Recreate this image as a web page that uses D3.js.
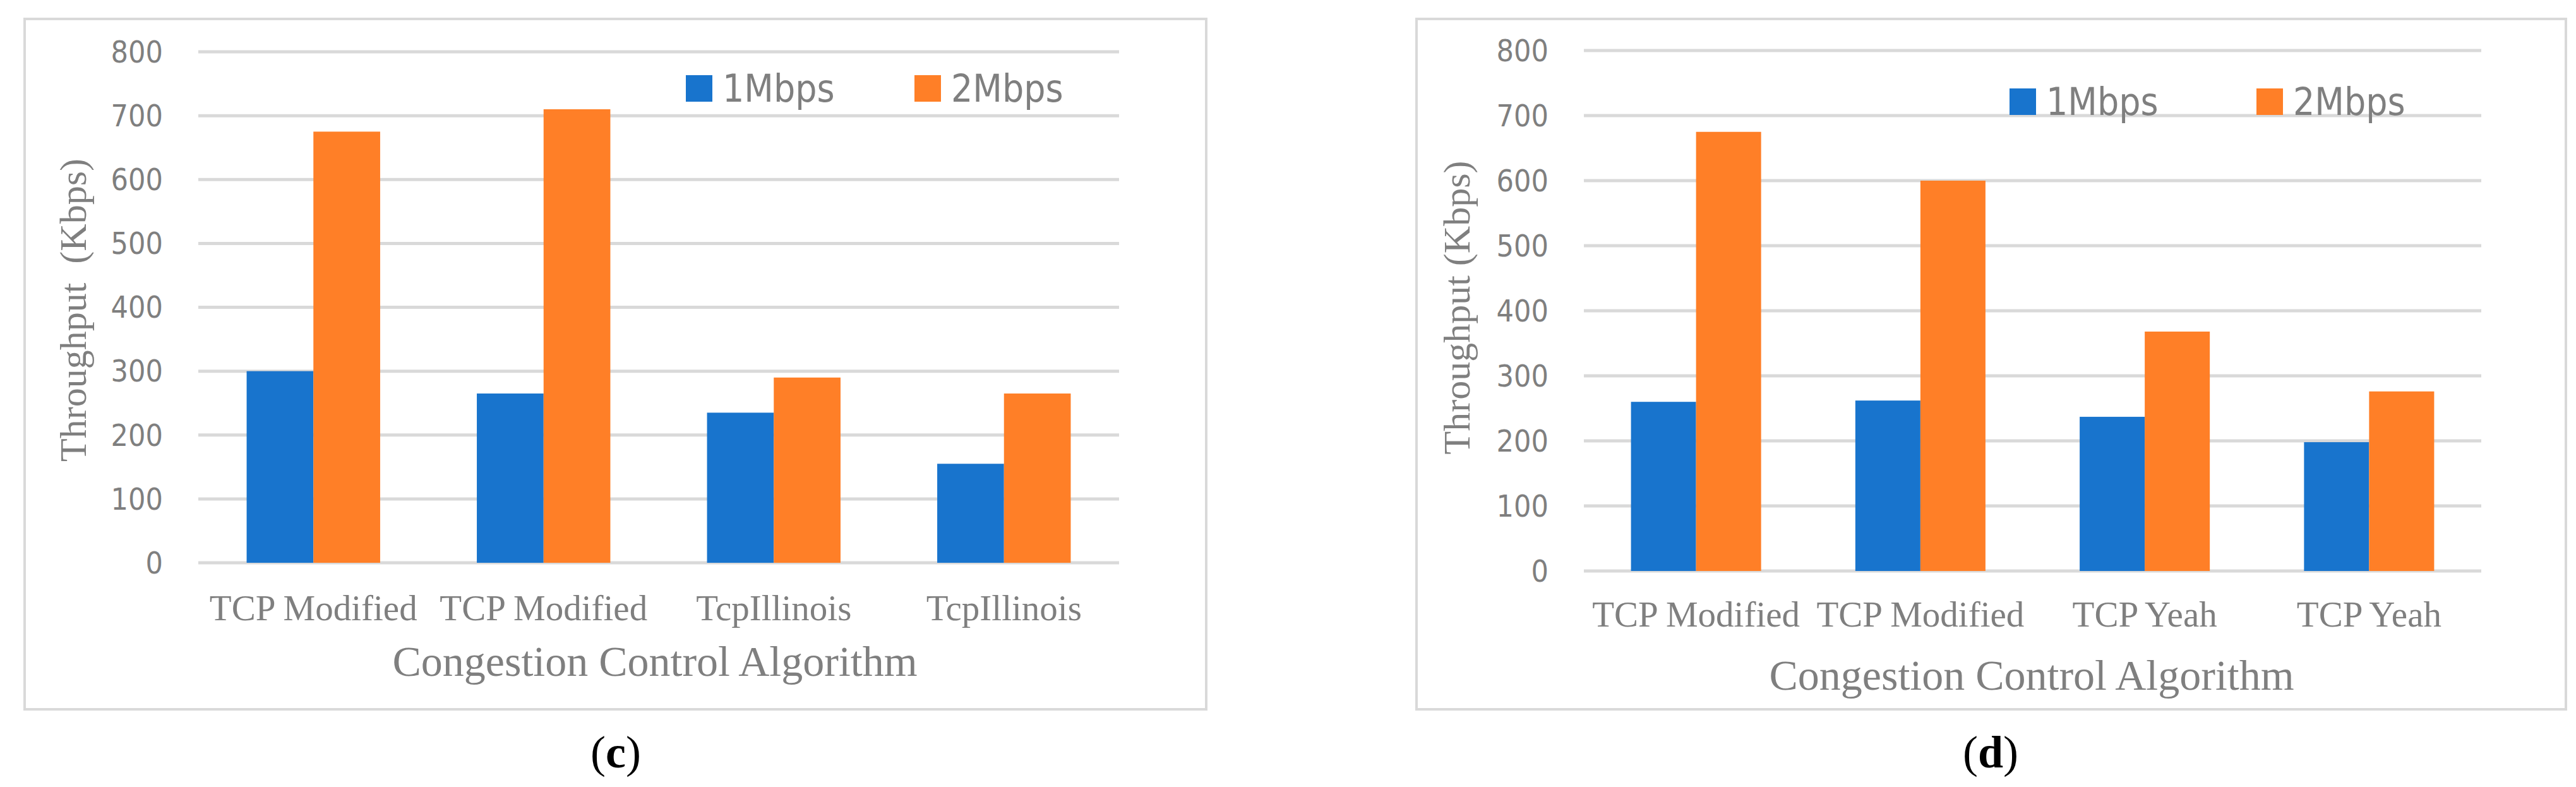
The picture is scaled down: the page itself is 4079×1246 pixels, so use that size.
<!DOCTYPE html>
<html><head><meta charset="utf-8">
<script src="https://cdn.jsdelivr.net/npm/d3@7"></script>
<style>body{margin:0;background:#fff}</style>
</head><body>
<svg id="fig" width="4079" height="1246"></svg>
<script>
var seriesNames = ["1Mbps", "2Mbps"];
var colors = ["#1874CD", "#FF7F27"];
var yTicks = [0, 100, 200, 300, 400, 500, 600, 700, 800];

var catsC = ["TCP Modified", "TCP Modified", "TcpIllinois", "TcpIllinois"];
var c1Mbps = [300, 265, 235, 155];
var c2Mbps = [675, 710, 290, 265];

var catsD = ["TCP Modified", "TCP Modified", "TCP Yeah", "TCP Yeah"];
var d1Mbps = [260, 262, 237, 198];
var d2Mbps = [675, 600, 368, 276];

var svg = d3.select("#fig");
var grey = "#7f7f7f";
var tickFont = "'Liberation Sans Narrow', 'DejaVu Sans Condensed', sans-serif";
var serif = "'Liberation Serif', 'DejaVu Serif', serif";

function drawChart(o) {
    var g = svg.append("g");
    g.append("rect").attr("x", o.box[0]).attr("y", o.box[1])
        .attr("width", o.box[2]).attr("height", o.box[3])
        .attr("fill", "#fff").attr("stroke", "#d9d9d9").attr("stroke-width", 4);

    var x = d3.scaleBand().domain(d3.range(o.cats.length)).range([o.x0, o.x1]);
    var y = d3.scaleLinear().domain([0, 800]).range([o.y0, o.y1]);
    var barW = x.bandwidth() * 0.29;

    g.selectAll(".grid").data(yTicks).enter().append("line")
        .attr("x1", o.x0).attr("x2", o.x1)
        .attr("y1", function(d) { return y(d); }).attr("y2", function(d) { return y(d); })
        .attr("stroke", "#d9d9d9").attr("stroke-width", 5);

    g.selectAll(".tick").data(yTicks).enter().append("text")
        .attr("x", o.x0 - 56).attr("y", function(d) { return y(d); })
        .attr("dy", "0.35em").attr("text-anchor", "end")
        .attr("font-family", tickFont).attr("font-size", 48).attr("fill", grey)
        .text(function(d) { return d; });

    [o.s1, o.s2].forEach(function(vals, si) {
        g.selectAll(".bar" + si).data(vals).enter().append("rect")
            .attr("x", function(d, i) { return x(i) + x.bandwidth() / 2 - barW + si * barW; })
            .attr("y", function(d) { return y(d); })
            .attr("width", barW)
            .attr("height", function(d) { return y(0) - y(d); })
            .attr("fill", colors[si]);
    });

    g.selectAll(".cat").data(o.cats).enter().append("text")
        .attr("x", function(d, i) { return x(i) + x.bandwidth() / 2; })
        .attr("y", o.catY).attr("text-anchor", "middle")
        .attr("font-family", serif).attr("font-size", 57).attr("fill", grey)
        .text(function(d) { return d; });

    g.append("text").attr("x", o.xtX).attr("y", o.xtY).attr("text-anchor", "middle")
        .attr("font-family", serif).attr("font-size", 68).attr("fill", grey)
        .text("Congestion Control Algorithm");

    g.append("text").attr("transform", "translate(" + o.ytX + "," + o.ytY + ") rotate(-90)")
        .attr("text-anchor", "middle").attr("dy", "0.35em")
        .attr("font-family", serif).attr("font-size", 60).attr("fill", grey)
        .text(o.ytText);

    seriesNames.forEach(function(s, i) {
        g.append("rect").attr("x", o.leg[i]).attr("y", o.legY - 21)
            .attr("width", 42).attr("height", 42).attr("fill", colors[i]);
        g.append("text").attr("x", o.leg[i] + 58).attr("y", o.legY)
            .attr("dy", "0.35em").attr("font-family", tickFont)
            .attr("font-size", 60).attr("fill", grey).text(s);
    });

    g.append("text").attr("x", o.capX).attr("y", 1215).attr("text-anchor", "middle")
        .attr("font-family", serif).attr("font-size", 72).attr("fill", "#000")
        .html("(<tspan font-weight='bold'>" + o.cap + "</tspan>)");
}

drawChart({
    box: [39, 30, 1871, 1093], x0: 314, x1: 1772, y0: 891, y1: 82,
    cats: catsC, s1: c1Mbps, s2: c2Mbps, catY: 982, xtX: 1037, xtY: 1070,
    ytX: 115, ytY: 491, ytText: "Throughput\u00a0 (Kbps)",
    leg: [1086, 1448], legY: 140, capX: 975, cap: "c"
});

drawChart({
    box: [2243, 30, 1820, 1093], x0: 2508, x1: 3929, y0: 904, y1: 80,
    cats: catsD, s1: d1Mbps, s2: d2Mbps, catY: 992, xtX: 3217, xtY: 1092,
    ytX: 2306, ytY: 487, ytText: "Throughput (Kbps)",
    leg: [3182, 3573], legY: 161, capX: 3152, cap: "d"
});
</script>
</body></html>
